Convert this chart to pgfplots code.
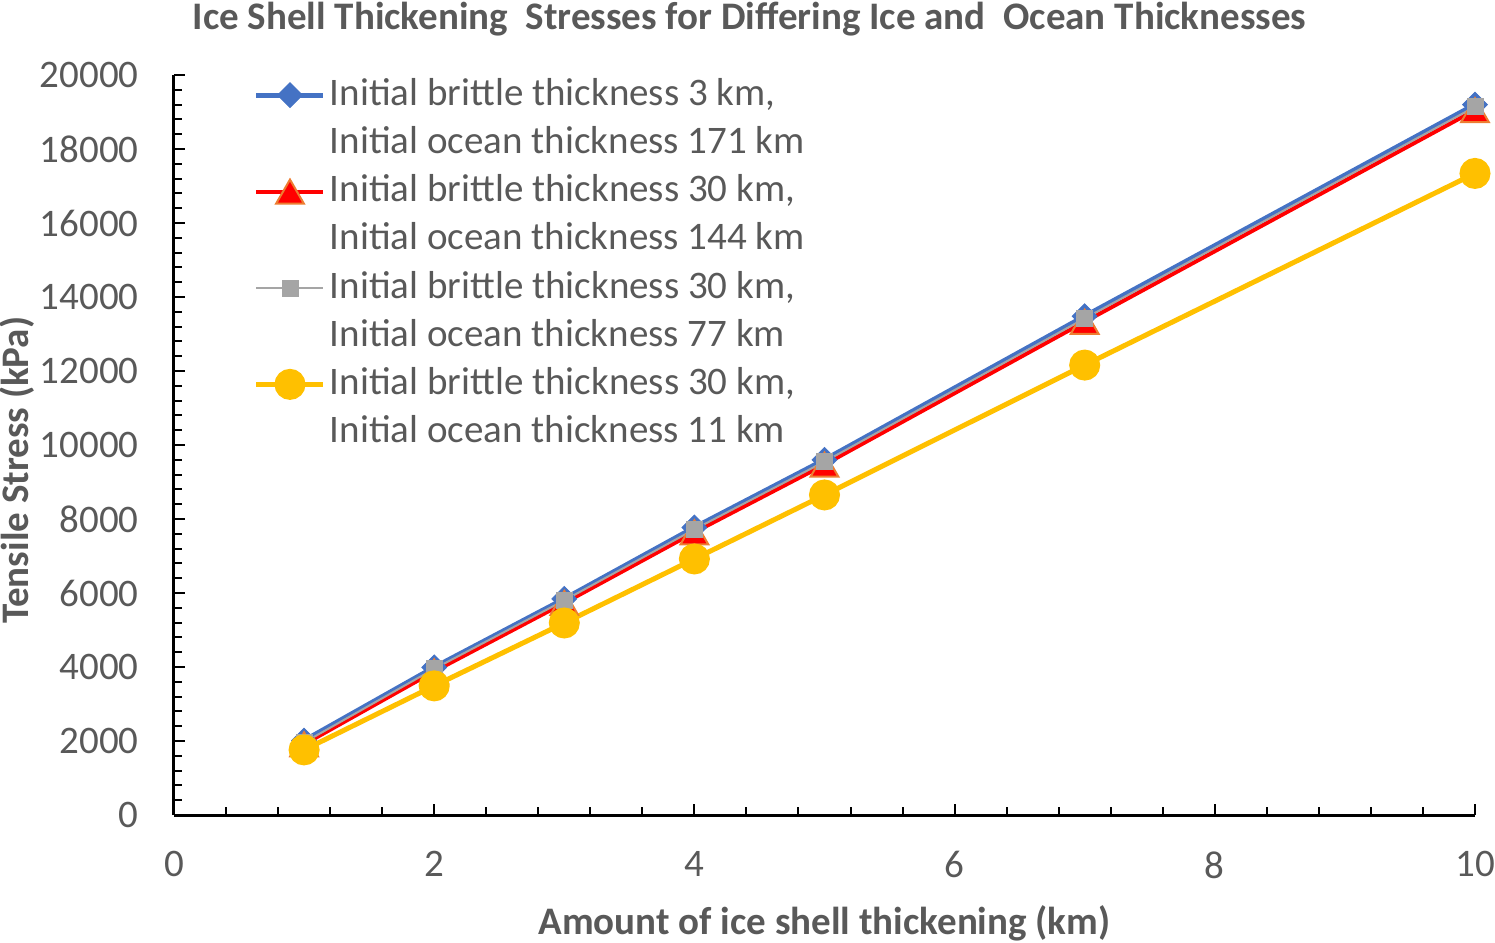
\documentclass[border=0pt]{standalone}
\usepackage{pgfplots}
\pgfplotsset{compat=1.18}
\usepackage{fontspec}
\setmainfont{Carlito}

\definecolor{xlblue}{HTML}{4472C4}
\definecolor{xlred}{HTML}{FF0000}
\definecolor{xlorange}{HTML}{ED7D31}
\definecolor{xlgray}{HTML}{A5A5A5}
\definecolor{xlyellow}{HTML}{FFC000}
\definecolor{textgray}{HTML}{595959}

\newcommand{\chartfont}{\fontsize{19.5}{23.4}\selectfont}

\begin{document}
\chartfont
\begin{tikzpicture}
\path[use as bounding box] (-87pt,-64pt) rectangle (660.5pt,407.5pt);
\begin{axis}[
  scale only axis,
  width=650.5pt, height=370pt,
  xmin=0, xmax=10, ymin=0, ymax=20000,
  clip=false,
  axis lines=left,
  axis line style={-, line width=1.5pt, black},
  xtick distance=2, ytick distance=2000,
  minor x tick num=4, minor y tick num=4,
  tick align=inside,
  major tick style={black, line width=1pt},
  minor tick style={black, line width=1pt},
  major tick length=5.5pt, minor tick length=4pt,
  tick label style={font=\chartfont, text=textgray},
  /pgf/number format/assume math mode=true,
  /pgf/number format/set thousands separator={},
  scaled y ticks=false,
  yticklabel style={inner xsep=0pt, xshift=-17.5pt},
  xticklabel style={yshift=-11.5pt},
  title={Ice Shell Thickening\ \ Stresses for Differing Ice and\ \ Ocean Thicknesses},
  title style={at={(axis description cs:0.4424,1.0446)}, anchor=base,
    font=\chartfont\bfseries, text=textgray},
  xlabel={Amount of ice shell thickening (km)},
  xlabel style={at={(axis description cs:0.5,-0.162)}, anchor=base,
    font=\chartfont\bfseries, text=textgray},
  ylabel={Tensile Stress (kPa)},
  ylabel style={at={(axis description cs:-0.1122,0.466)}, anchor=base,
    font=\chartfont\bfseries, text=textgray},
  legend cell align=left,
  legend style={at={(axis description cs:0.0615,1.0053)}, anchor=north west,
    draw=none, fill=none, inner sep=0pt, outer sep=0pt,
    row sep=0pt, column sep=2pt,
    font=\chartfont, text=textgray,
    nodes={inner sep=0pt, text height=17.1pt, text depth=7pt}},
  legend image code/.code={%
    \draw[mark repeat=2, mark phase=2]
      plot coordinates {(0pt,0pt) (16.75pt,0pt) (33.5pt,0pt)};},
]

% brittle 3 km, ocean 171 km
\addplot[color=xlblue, line width=2.5pt, mark=square*, mark size=4.4pt,
  mark options={rotate=45, fill=xlblue, draw=xlblue, line width=0.4pt, solid}]
  coordinates {(1,2010) (2,3990) (3,5840) (4,7770) (5,9600) (7,13480) (10,19200)};
\addlegendentry{Initial brittle thickness 3 km,}
\addlegendimage{empty legend}
\addlegendentry{Initial ocean thickness 171 km}

% brittle 30 km, ocean 144 km
\addplot[color=xlred, line width=2pt, mark=triangle*, mark size=8pt,
  mark options={fill=xlred, draw=xlorange, line width=1pt, solid, yshift=-2pt}]
  coordinates {(1,1910) (2,3880) (3,5730) (4,7640) (5,9470) (7,13330) (10,19050)};
\addlegendentry{Initial brittle thickness 30 km,}
\addlegendimage{empty legend}
\addlegendentry{Initial ocean thickness 144 km}

% brittle 30 km, ocean 77 km
\addplot[color=xlgray, line width=1pt, mark=square*, mark size=4pt,
  mark options={fill=xlgray, draw=xlgray, line width=0.4pt, solid}]
  coordinates {(1,1960) (2,3950) (3,5800) (4,7720) (5,9550) (7,13420) (10,19140)};
\addlegendentry{Initial brittle thickness 30 km,}
\addlegendimage{empty legend}
\addlegendentry{Initial ocean thickness 77 km}

% brittle 30 km, ocean 11 km
\addplot[color=xlyellow, line width=2.5pt, mark=*, mark size=6.5pt,
  mark options={fill=xlyellow, draw=none, solid}]
  coordinates {(1,1760) (2,3490) (3,5190) (4,6920) (5,8650) (7,12160) (10,17340)};
\addlegendentry{Initial brittle thickness 30 km,}
\addlegendimage{empty legend}
\addlegendentry{Initial ocean thickness 11 km}

\end{axis}
\end{tikzpicture}
\end{document}
